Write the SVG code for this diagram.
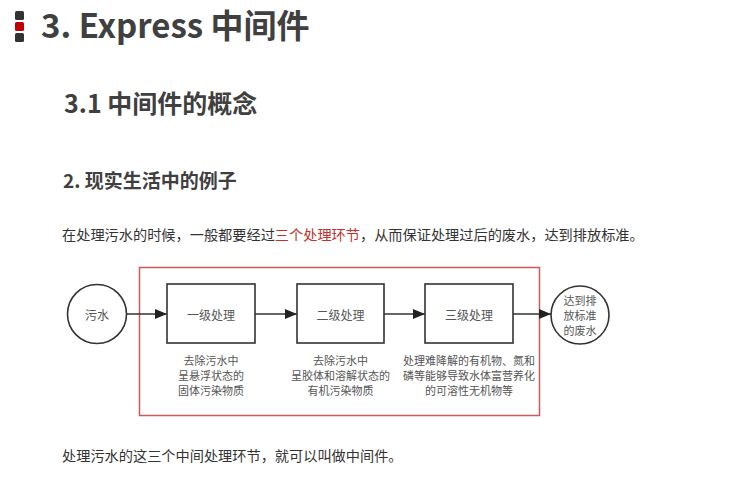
<svg xmlns="http://www.w3.org/2000/svg" width="745" height="498" viewBox="0 0 745 498">
<defs>
<style>
text{font-family:"Noto Sans CJK SC","Liberation Sans",sans-serif;}
.h{font-weight:bold;fill:#404040;}
.body{font-size:14.2px;fill:#333;}
.red{fill:#c0322b;}
.lbl{font-size:12px;fill:#555;text-anchor:middle;dominant-baseline:central;}
.lbl2{font-size:11px;fill:#555;text-anchor:middle;dominant-baseline:central;}
.desc{font-size:11px;fill:#555;text-anchor:middle;}
.box{fill:#fff;stroke:#333;stroke-width:1.6;}
.conn{stroke:#333;stroke-width:1.5;fill:none;marker-end:url(#arr);}
</style>
<marker id="arr" viewBox="0 0 12 10" refX="12" refY="5" markerWidth="12" markerHeight="10" markerUnits="userSpaceOnUse" orient="auto">
<path d="M0,0 L12,5 L0,10 Z" fill="#222"/>
</marker>
</defs>
<rect width="745" height="498" fill="#fff"/>
<g id="icon">
<rect x="15" y="11" width="9" height="9" rx="1.5" fill="#333"/>
<rect x="15" y="22" width="9" height="9" rx="1.5" fill="#c00000"/>
<rect x="15" y="33" width="9" height="9" rx="1.5" fill="#333"/>
</g>
<text class="h" x="41" y="38" font-size="33">3. Express 中间件</text>
<text class="h" x="64" y="113" font-size="25">3.1 中间件的概念</text>
<text class="h" x="63" y="188" font-size="19">2. 现实生活中的例子</text>
<text class="body" x="62" y="240">在处理污水的时候，一般都要经过<tspan class="red">三个处理环节</tspan>，从而保证处理过后的废水，达到排放标准。</text>
<g id="frame">
<rect x="139.5" y="267.5" width="400" height="148" fill="none" stroke="#c9595a" stroke-width="1.5"/>
</g>
<g id="connectors">
<line class="conn" x1="127" y1="314" x2="167" y2="314"/>
<line class="conn" x1="255" y1="314" x2="297" y2="314"/>
<line class="conn" x1="384" y1="314" x2="425" y2="314"/>
<line class="conn" x1="513" y1="314" x2="551" y2="314"/>
</g>
<g id="n-wushui">
<circle class="box" cx="97" cy="314" r="29.5"/>
<text class="lbl" x="97" y="314">污水</text>
</g>
<g id="n-1">
<rect class="box" x="167" y="284" width="88" height="59"/>
<text class="lbl" x="211" y="314">一级处理</text>
<text class="desc" x="211" y="365">去除污水中</text>
<text class="desc" x="211" y="380">呈悬浮状态的</text>
<text class="desc" x="211" y="395">固体污染物质</text>
</g>
<g id="n-2">
<rect class="box" x="297" y="284" width="87" height="59"/>
<text class="lbl" x="340.5" y="314">二级处理</text>
<text class="desc" x="340.5" y="365">去除污水中</text>
<text class="desc" x="340.5" y="380">呈胶体和溶解状态的</text>
<text class="desc" x="340.5" y="395">有机污染物质</text>
</g>
<g id="n-3">
<rect class="box" x="425" y="284" width="88" height="59"/>
<text class="lbl" x="469" y="314">三级处理</text>
<text class="desc" x="469" y="365">处理难降解的有机物、氮和</text>
<text class="desc" x="469" y="380">磷等能够导致水体富营养化</text>
<text class="desc" x="469" y="395">的可溶性无机物等</text>
</g>
<g id="n-out">
<circle class="box" cx="580" cy="315" r="29"/>
<text class="lbl2" x="580" y="300">达到排</text>
<text class="lbl2" x="580" y="315">放标准</text>
<text class="lbl2" x="580" y="330">的废水</text>
</g>
<text class="body" x="62" y="461">处理污水的这三个中间处理环节，就可以叫做中间件。</text>
</svg>
